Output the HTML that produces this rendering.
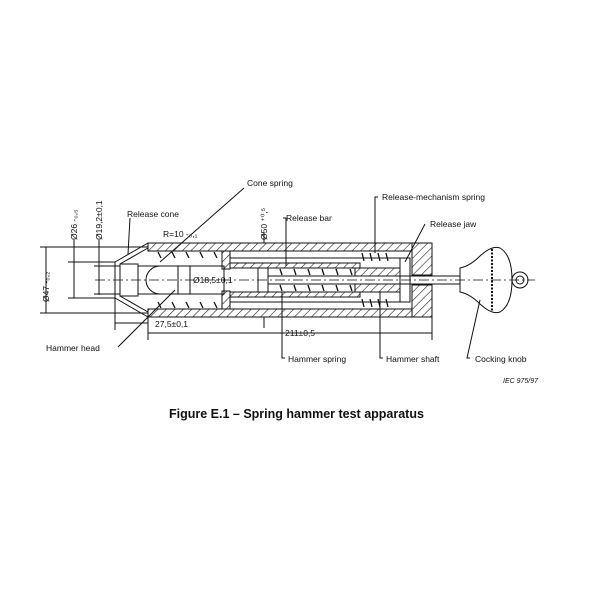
<!DOCTYPE html>
<html><head><style>
html,body{margin:0;padding:0;background:#fff;}
svg{display:block;}
text{font-family:"Liberation Sans",sans-serif;fill:#111;}
</style></head><body>
<svg width="600" height="600" viewBox="0 0 600 600" xmlns="http://www.w3.org/2000/svg">
<defs>
<pattern id="h" width="6" height="6" patternUnits="userSpaceOnUse" patternTransform="rotate(45)">
<rect width="6" height="6" fill="#fff"/><line x1="0" y1="0" x2="0" y2="6" stroke="#222" stroke-width="1.2"/>
</pattern>
</defs>
<g stroke="#111" stroke-width="1" fill="none">
<!-- outer body hatched walls -->
<rect x="148" y="243" width="284" height="8" fill="url(#h)"/>
<rect x="148" y="309" width="284" height="8" fill="url(#h)"/>
<rect x="412" y="243" width="20" height="32" fill="url(#h)"/>
<rect x="412" y="285" width="20" height="32" fill="url(#h)"/>
<!-- middle block -->
<rect x="222" y="251" width="8" height="18" fill="url(#h)"/>
<rect x="222" y="291" width="8" height="18" fill="url(#h)"/>
<rect x="230" y="263" width="130" height="5" fill="url(#h)"/>
<rect x="230" y="292" width="130" height="5" fill="url(#h)"/>
<rect x="355" y="268" width="45" height="8" fill="url(#h)"/>
<rect x="355" y="284" width="45" height="8" fill="url(#h)"/>
<!-- cone -->
<path d="M148 243 L115 262 L115 298 L148 317"/>
<path d="M148 248 L120 264 L120 296 L148 312"/>
<rect x="120" y="264" width="18" height="32"/>
<rect x="138" y="266" width="86" height="28"/>
<path d="M160 266 A14 14 0 0 0 160 294"/>
<line x1="178" y1="266" x2="178" y2="294"/>
<rect x="258" y="268" width="10" height="24"/>
<!-- rods -->
<line x1="268" y1="276" x2="460" y2="276"/>
<line x1="268" y1="284" x2="460" y2="284"/>
<!-- jaw -->
<rect x="400" y="258" width="10" height="44"/>
<!-- springs (zigzag marks) -->
<g stroke-width="1.3">
<path d="M158 252 l3 6 M172 252 l3 6 M186 252 l3 6 M200 252 l3 6 M214 252 l3 6"/>
<path d="M158 302 l3 6 M172 302 l3 6 M186 302 l3 6 M200 302 l3 6 M214 302 l3 6"/>
<path d="M280 269 l2 6 M294 269 l2 6 M308 269 l2 6 M322 269 l2 6 M336 269 l2 6 M350 269 l2 6"/>
<path d="M280 285 l2 6 M294 285 l2 6 M308 285 l2 6 M322 285 l2 6 M336 285 l2 6 M350 285 l2 6"/>
<path d="M362 253 l2 8 M370 253 l2 8 M378 253 l2 8 M386 253 l2 8"/>
<path d="M362 299 l2 8 M370 299 l2 8 M378 299 l2 8 M386 299 l2 8"/>
</g>
<line x1="230" y1="258" x2="400" y2="258"/>
<line x1="230" y1="302" x2="400" y2="302"/>
<!-- knob -->
<path d="M460 274 L460 268 Q470 266 480 256 Q492 245 500 248 Q512 255 512 280 Q512 305 500 312 Q492 315 480 304 Q470 294 460 292 Z"/>
<line x1="492" y1="249" x2="492" y2="311" stroke-dasharray="2 1.5" stroke-width="2"/>
<circle cx="520" cy="280" r="8"/><circle cx="520" cy="280" r="4"/>
<!-- center line -->
<line x1="95" y1="280" x2="535" y2="280" stroke-dasharray="10 3 2 3" stroke-width="0.7"/>
<!-- dimension lines -->
<line x1="46" y1="247" x2="46" y2="313"/>
<line x1="40" y1="247" x2="148" y2="247"/><line x1="40" y1="313" x2="148" y2="313"/>
<line x1="74" y1="240" x2="74" y2="298"/>
<line x1="68" y1="262" x2="115" y2="262"/><line x1="68" y1="298" x2="115" y2="298"/>
<line x1="99" y1="240" x2="99" y2="295"/>
<line x1="94" y1="266" x2="120" y2="266"/><line x1="94" y1="294" x2="120" y2="294"/>
<line x1="115" y1="298" x2="115" y2="330"/><line x1="148" y1="317" x2="148" y2="340"/>
<line x1="115" y1="323" x2="148" y2="323"/>
<line x1="148" y1="333" x2="432" y2="333"/><line x1="432" y1="317" x2="432" y2="340"/>
<line x1="264" y1="232" x2="264" y2="243"/><line x1="264" y1="317" x2="264" y2="328"/>
<line x1="190" y1="266" x2="190" y2="294"/>
<!-- leaders -->
<path d="M244 188 L160 262"/>
<path d="M130 218 L128 254"/>
<path d="M118 347 L175 290"/>
<path d="M283 218 L286 218 L286 266"/>
<path d="M378 197 L375 197 L375 253"/>
<path d="M425 224 L405 262"/>
<path d="M285 358 L282 358 L282 292"/>
<path d="M383 358 L380 358 L380 292"/>
<path d="M470 358 L467 358 L480 300"/>
</g>
<g font-size="8.5">
<text x="247" y="186">Cone spring</text>
<text x="127" y="217">Release cone</text>
<text x="163" y="237">R=10 -₀,₁</text>
<text x="286" y="221">Release bar</text>
<text x="382" y="200">Release-mechanism spring</text>
<text x="430" y="227">Release jaw</text>
<text x="193" y="283">Ø18,5±0,1</text>
<text x="155" y="327">27,5±0,1</text>
<text x="285" y="336">211±0,5</text>
<text x="46" y="351">Hammer head</text>
<text x="288" y="362">Hammer spring</text>
<text x="386" y="362">Hammer shaft</text>
<text x="475" y="362">Cocking knob</text>
<text transform="translate(77,240) rotate(-90)">Ø26 -₀,₅</text>
<text transform="translate(102,240) rotate(-90)">Ø19,2±0,1</text>
<text transform="translate(49,302) rotate(-90)">Ø47 -₀,₂</text>
<text transform="translate(267,240) rotate(-90)">Ø50 ⁺⁰,⁵</text>
</g>
<text x="503" y="383" font-size="7" font-style="italic">IEC  975/97</text>
<text x="169" y="418" font-size="12.5" font-weight="bold">Figure E.1 – Spring hammer test apparatus</text>
</svg>
</body></html>
